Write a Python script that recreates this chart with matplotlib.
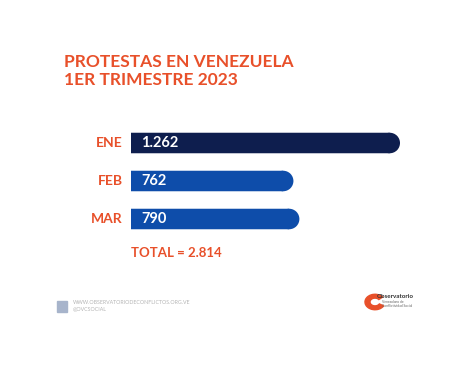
import matplotlib.pyplot as plt
from matplotlib.patches import Rectangle, Wedge, Ellipse

plt.rcParams['font.family'] = ['Lato', 'DejaVu Sans']

# data
months = ['ENE', 'FEB', 'MAR']
protests = [1262, 762, 790]
value_labels = ['1.262', '762', '790']
total_label = 'TOTAL = 2.814'
title = 'PROTESTAS EN VENEZUELA\n1ER TRIMESTRE 2023'

orange = '#E8502A'
colors = ['#0E1E4E', '#0E4DAA', '#0E4DAA']

W, H = 474, 366
fig = plt.figure(figsize=(W / 100, H / 100), dpi=100)
fig.patch.set_facecolor('white')

# axes in pixel units: bars start at x=131, longest ends at 400
top, bottom = 124, 238
ax = fig.add_axes([131 / W, 1 - bottom / H, (400 - 131) / W, (bottom - top) / H])
ax.set_xlim(0, max(protests))
ax.set_ylim(2.5, -0.5)
ax.axis('off')

bar_h = 0.54
px_per_unit_y = (bottom - top) / 3
px_per_unit = (400 - 131) / max(protests)
bar_px = bar_h * px_per_unit_y
r_data = bar_px / 2 / px_per_unit
for i, (m, v, lab, c) in enumerate(zip(months, protests, value_labels, colors)):
    bars = ax.barh(i, v - r_data, height=bar_h, color=c, align='center', linewidth=0)
    bars[0].set_snap(False)
    # round right end
    ax.add_patch(Ellipse((v - r_data, i), 2 * r_data, bar_h, color=c,
                         linewidth=0, snap=False))
    ax.text(-8 / px_per_unit, i, m, ha='right', va='center', color=orange,
            fontsize=10, fontweight='bold')
    ax.text(10 / px_per_unit, i, lab, ha='left', va='center', color='white',
            fontsize=10.5, fontweight='bold')

fig.text(131 / W, 1 - 253 / H, total_label, ha='left', va='center',
         color=orange, fontsize=9.5, fontweight='bold')

fig.text(64 / W, 1 - 71 / H, title, ha='left', va='center', color=orange,
         fontsize=12.5, fontweight='bold', linespacing=1.2)

# footer
fig.patches.append(Rectangle((57 / W, 1 - 312 / H), 10 / W, 11 / H,
                             transform=fig.transFigure, color='#A7B4CB'))
fig.text(73 / W, 1 - 306 / H, 'WWW.OBSERVATORIODECONFLICTOS.ORG.VE\n@OVCSOCIAL',
         ha='left', va='center', color='#B5B5B5', fontsize=3.8, linespacing=1.3)

# logo
fig.patches.append(Wedge((375 / W, 1 - 302 / H), 10 / W, 40, 330,
                         width=5 / W, transform=fig.transFigure, color=orange))
fig.text(377 / W, 1 - 297 / H, 'Observatorio', ha='left', va='center',
         color='#333333', fontsize=4.5, fontweight='bold')
fig.text(382 / W, 1 - 304 / H, 'Venezolano de\nConflictividad Social',
         ha='left', va='center', color='#666666', fontsize=2.4, linespacing=1.1)

fig.savefig('out.png', dpi=100, facecolor='white')
